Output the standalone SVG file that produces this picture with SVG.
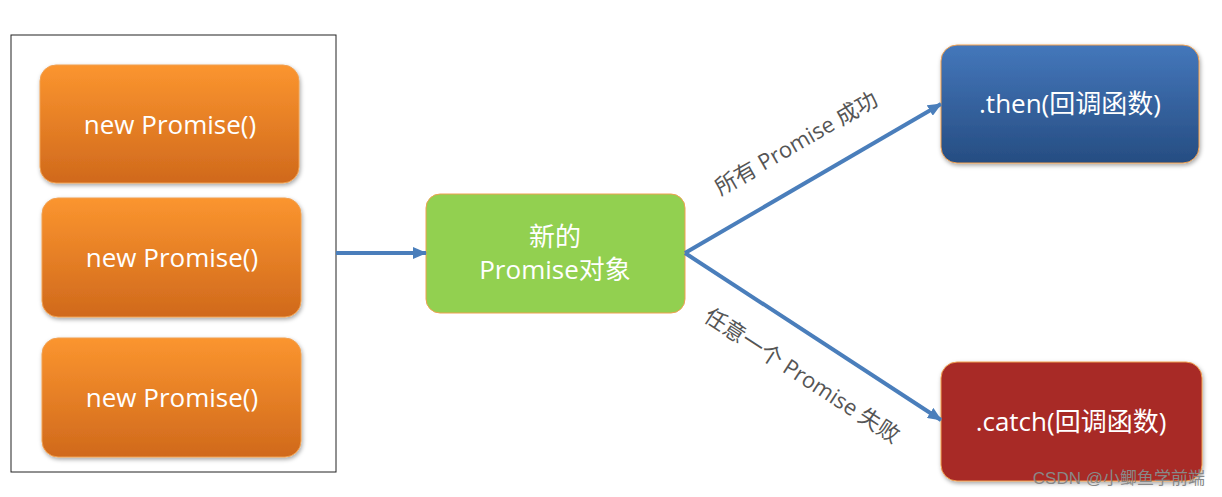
<svg xmlns="http://www.w3.org/2000/svg" width="1222" height="497" viewBox="0 0 1222 497">
<defs>
<linearGradient id="go" x1="0" y1="0" x2="0" y2="1"><stop offset="0" stop-color="#fb952f"/><stop offset="1" stop-color="#d0691c"/></linearGradient>
<linearGradient id="gb" x1="0" y1="0" x2="0" y2="1"><stop offset="0" stop-color="#4477bb"/><stop offset="1" stop-color="#264d82"/></linearGradient>
<marker id="ar" markerWidth="14" markerHeight="12" refX="13" refY="6" orient="auto" markerUnits="userSpaceOnUse"><path d="M0,0 L14,6 L0,12 Z" fill="#4a7ebb"/></marker>
<filter id="sh" x="-10%" y="-10%" width="120%" height="130%"><feDropShadow dx="1" dy="2" stdDeviation="2" flood-opacity="0.35"/></filter>
</defs>
<style>
.t{font-family:"Open Sans","Noto Sans CJK SC",sans-serif;fill:#fff;font-size:26px;text-anchor:middle}
.l{font-family:"Open Sans","Noto Sans CJK SC",sans-serif;fill:#555;font-size:22px;text-anchor:middle}
.c{stroke:#4a7ebb;stroke-width:4;fill:none;marker-end:url(#ar)}
</style>
<rect x="11" y="35" width="325" height="437" fill="#fff" stroke="#222" stroke-width="1"/>
<g id="p1"><rect x="40" y="65" width="259" height="118" rx="16" fill="url(#go)" stroke="#f0a050" filter="url(#sh)"/><text class="t" x="170" y="134">new Promise()</text></g>
<g id="p2"><rect x="42" y="198" width="259" height="119" rx="16" fill="url(#go)" stroke="#f0a050" filter="url(#sh)"/><text class="t" x="172" y="267">new Promise()</text></g>
<g id="p3"><rect x="42" y="338" width="259" height="119" rx="16" fill="url(#go)" stroke="#f0a050" filter="url(#sh)"/><text class="t" x="172" y="407">new Promise()</text></g>
<g id="new"><rect x="426" y="194" width="259" height="119" rx="14" fill="#92d050" stroke="#f0a050"/><text class="t" x="555" y="246">新的</text><text class="t" x="555" y="279">Promise对象</text></g>
<g id="then"><rect x="941" y="45" width="258" height="118" rx="16" fill="url(#gb)" stroke="#f0a050" filter="url(#sh)"/><text class="t" x="1070" y="113">.then(回调函数)</text></g>
<g id="catch"><rect x="941" y="362" width="261" height="119" rx="16" fill="#a82a26" stroke="#f0a050" filter="url(#sh)"/><text class="t" x="1071" y="431">.catch(回调函数)</text></g>
<g id="connectors">
<line class="c" x1="336" y1="253" x2="426" y2="253"/>
<line class="c" x1="685" y1="253" x2="941" y2="104"/>
<line class="c" x1="685" y1="253" x2="941" y2="420"/>
<text class="l" transform="translate(800,150) rotate(-30)">所有 Promise 成功</text>
<text class="l" transform="translate(798,382) rotate(33)">任意一个 Promise 失败</text>
</g>
<text x="1205" y="484" font-family="Liberation Sans,'Noto Sans CJK SC',sans-serif" font-size="17" fill="#888" text-anchor="end">CSDN @小鲫鱼学前端</text>
</svg>
